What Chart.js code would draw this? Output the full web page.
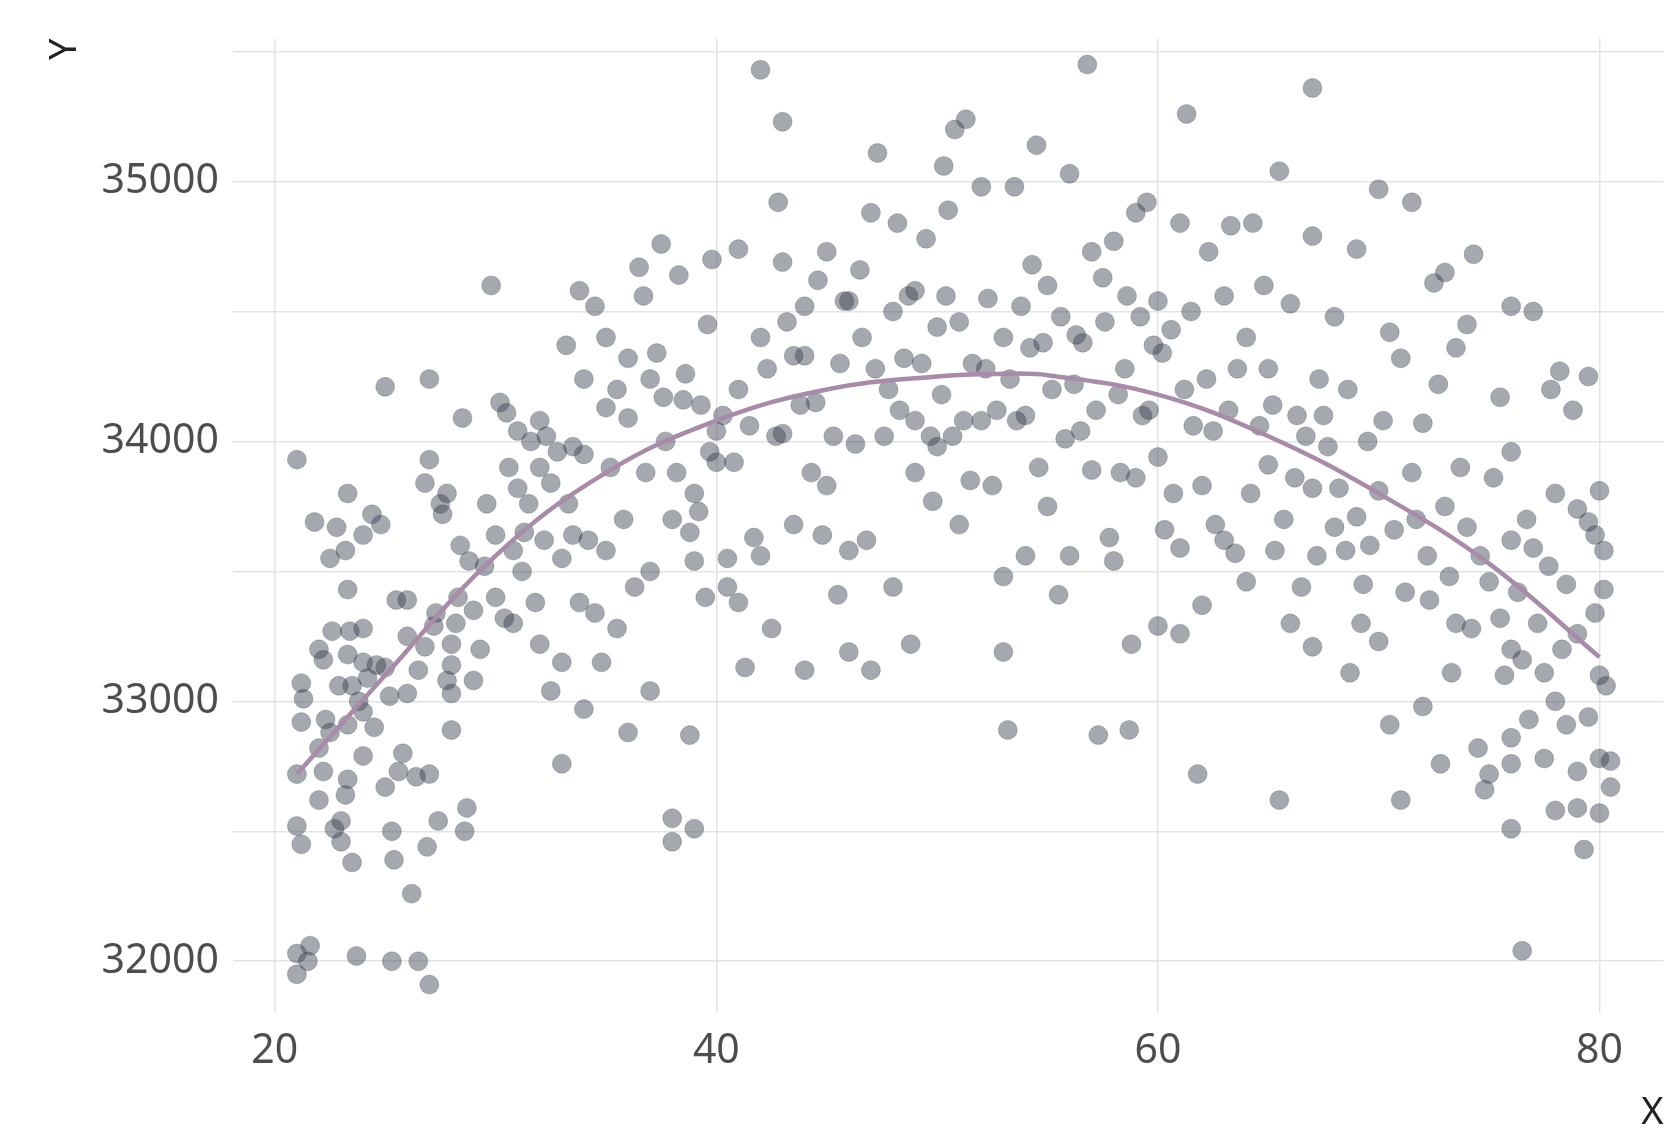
<!DOCTYPE html>
<html>
<head>
<meta charset="utf-8">
<script src="https://cdn.jsdelivr.net/npm/chart.js@4"></script>
<style>
  html, body { margin: 0; background: #fff; }
  #wrap { width: 1674px; height: 1136px; }
</style>
</head>
<body>
<div id="wrap"><canvas id="chart"></canvas></div>
<script>
// scatter points: [x, y]
const points = [
  [21,33930],[21,32720],[21,32520],[21.2,32450],[21,32030],[21,31950],[21.5,32000],[21.6,32060],[21.2,33070],[21.3,33010],
  [21.2,32920],[21.8,33690],[22,33200],[22.2,33160],[22.3,32930],[22,32820],[22.2,32730],[22,32620],[22.5,33550],[22.8,33670],
  [22.6,33270],[22.9,33060],[22.7,32510],[23,32540],[23,32460],[23.3,33800],[23.2,33580],[23.3,33430],[23.4,33270],[23.3,33180],
  [23.5,33060],[23.3,32910],[23.2,32640],[23.3,32700],[23.5,32380],[23.7,32020],[24,33640],[24,33280],[24,33150],[24,32960],
  [24,32790],[24.2,33090],[24.4,33720],[24.6,33140],[24.8,33680],[25,34210],[25,33130],[25,32670],[25.3,32500],[25.3,32000],
  [25.5,33390],[25.4,32390],[25.6,32730],[25.8,32800],[26,33390],[26,33250],[26,33030],[26.2,32260],[26.4,32710],[26.5,32000],
  [26.8,33210],[27,34240],[26.8,33840],[27,33930],[27,32720],[26.9,32440],[27,31910],[27.2,33290],[27.3,33340],[27.5,33760],
  [27.6,33720],[27.4,32540],[27.8,33800],[28,33220],[28,33140],[28,33030],[28,32890],[28.3,33400],[28.4,33600],[28.5,34090],
  [28.7,32590],[28.6,32500],[28.8,33540],[29,33350],[29,33080],[29.5,33520],[29.8,34600],[30,33640],[30,33400],[30.2,34150],
  [30.5,34110],[30.4,33320],[30.8,33580],[31,34040],[31,33820],[31.3,33650],[31.6,34000],[31.8,33380],[32,34080],[32,33900],
  [32,33220],[32.3,34020],[32.5,33840],[32.5,33040],[32.8,33960],[33,33550],[33,33150],[33,32760],[33.2,34370],[33.5,33980],
  [33.5,33640],[33.8,34580],[33.8,33380],[34,34240],[34,33950],[34,32970],[34.5,34520],[34.5,33340],[34.8,33150],[35,34130],
  [35,34400],[35,33580],[35.5,34200],[35.5,33280],[36,34320],[36,34090],[36,32880],[36.5,34670],[36.7,34560],[37,34240],
  [37,33500],[37,33040],[37.3,34340],[37.5,34760],[37.7,34000],[38,33700],[38,32460],[38,32550],[38.3,34640],[38.6,34260],
  [38.8,33650],[38.8,32870],[39,32510],[39,33800],[39,33540],[39.3,34140],[39.6,34450],[39.8,34700],[39.5,33400],[40,33920],
  [40,34040],[40.3,34100],[40.5,33440],[40.5,33550],[41,34740],[41,34200],[41,33380],[41.3,33130],[41.5,34060],[42,35430],
  [42,34400],[42,33560],[42.5,33280],[42.8,34920],[43,35230],[43,34690],[43,34030],[43.5,34330],[43.5,33680],[44,34330],
  [44,34520],[44,33120],[44.5,34150],[44.8,33640],[45,34730],[45,33830],[45.5,33410],[45.8,34540],[46,34540],[46,33580],
  [46,33190],[46.5,34660],[46.8,33620],[47,34880],[47,33120],[47.3,35110],[47.8,34200],[48,34500],[48,33440],[48.2,34840],
  [48.5,34320],[48.8,33220],[49,34580],[49,34080],[49,33880],[49.5,34780],[49.8,33770],[50,34440],[50,33980],[50.3,35060],
  [50.5,34890],[50.7,34020],[50.8,35200],[51,34460],[51,33680],[51.3,35240],[51.5,33850],[52,34080],[52,34980],[52.3,34550],
  [52.5,33830],[53,34400],[53,33480],[53,33190],[53.2,32890],[53.5,34980],[53.8,34520],[54,34100],[54,33560],[54.3,34680],
  [54.5,35140],[54.8,34380],[55,33750],[55,34600],[55.5,33410],[55.8,34010],[56,35030],[56,33560],[56.3,34410],[56.5,34040],
  [56.8,35450],[57,34730],[57,33890],[57.3,32870],[57.5,34630],[57.8,33630],[58,34770],[58,33540],[58.2,34180],[58.5,34280],
  [58.7,32890],[58.8,33220],[59,34880],[59,33860],[59.3,34100],[59.5,34920],[59.8,34370],[60,34540],[60,33290],[60,33940],
  [60.3,33660],[60.6,34430],[61,34840],[61,33590],[61,33260],[61.3,35260],[61.5,34500],[61.8,32720],[62,33830],[62,33370],
  [62.3,34730],[62.5,34040],[63,34560],[63,33620],[63.3,34830],[63.5,33570],[64,34400],[64,33460],[64.3,34840],[64.8,34600],
  [65,33910],[65,34280],[65.3,33580],[65.5,35040],[65.5,32620],[66,34530],[66,33300],[66.3,34100],[66.5,33440],[67,35360],
  [67,34790],[67,33820],[67,33210],[67.3,34240],[67.5,34100],[68,34480],[68,33670],[68.5,33580],[68.7,33110],[69,34740],
  [69,33710],[69.3,33450],[69.5,34000],[70,34970],[70,33810],[70,33230],[70.5,34420],[70.5,32910],[71,34320],[71,32620],
  [71.5,34920],[71.5,33880],[72,34070],[72,32980],[72.3,33390],[72.5,34610],[72.8,32760],[73,34650],[73,33750],[73.3,33110],
  [73.5,33300],[73.5,34360],[74,34450],[74,33670],[74.3,34720],[74.5,32820],[74.8,32660],[75,33460],[75,32720],[75.5,34170],
  [75.5,33320],[76,34520],[76,33960],[76,33620],[76,33200],[76,32860],[76,32760],[76,32510],[76.5,33160],[76.5,32040],
  [76.8,32930],[77,34500],[77,33590],[77.5,33110],[77.5,32780],[77.8,34200],[78,33800],[78,33000],[78,32580],[78.2,34270],
  [78.5,33450],[78.5,32910],[78.8,34120],[79,33740],[79,32730],[79,33260],[79,32590],[79.3,32430],[79.5,34250],[79.5,32940],
  [79.8,33640],[80,33810],[80,33100],[80,32780],[80,32570],[80.2,33580],[80.3,33060],[80.5,32770],[80.5,32670],[80.2,33430],
  [79.8,33340],[79.5,33690],
  // denser middle band
  [29.3,33200],[30.6,33900],[31.2,33500],[32.2,33620],[33.3,33760],[34.2,33620],[35.2,33900],[35.8,33700],[36.3,33440],[36.8,33880],
  [37.6,34170],[38.2,33880],[38.5,34160],[39.2,33730],[39.7,33960],[40.8,33920],[41.7,33630],[42.3,34280],[42.7,34020],[43.2,34460],
  [43.8,34140],[44.3,33880],[44.6,34620],[45.3,34020],[45.6,34300],[46.3,33990],[46.6,34400],[47.2,34280],[47.6,34020],[48.3,34120],
  [48.7,34560],[49.3,34300],[49.7,34020],[50.2,34180],[50.4,34560],[51.2,34080],[51.6,34300],[52.2,34280],[52.7,34120],[53.3,34240],
  [53.6,34080],[54.2,34360],[54.6,33900],[55.2,34200],[55.6,34480],[56.2,34220],[56.6,34380],[57.2,34120],[57.6,34460],[58.3,33880],
  [58.6,34560],[59.2,34480],[59.6,34120],[60.2,34340],[60.7,33800],[61.2,34200],[61.6,34060],[62.2,34240],[62.6,33680],[63.2,34120],
  [63.6,34280],[64.2,33800],[64.6,34060],[65.2,34140],[65.7,33700],[66.2,33860],[66.7,34020],[67.2,33560],[67.7,33980],[68.2,33820],
  [68.6,34200],[69.2,33300],[69.6,33600],[70.2,34080],[70.7,33660],[71.2,33420],[71.7,33700],[72.2,33560],[72.7,34220],[73.2,33480],
  [73.7,33900],[74.2,33280],[74.6,33560],[75.2,33860],[75.7,33100],[76.3,33420],[76.7,33700],[77.2,33300],[77.7,33520],[78.3,33200],
  [28.2,33300],[27.8,33080],[26.5,33120],[25.2,33020],[24.5,32900],[23.8,33000],[22.5,32880],[29.6,33760],[30.8,33300],[31.5,33760]
];

// fitted curve
const curveX = [21, 25, 30, 35, 40, 45, 50, 53, 55, 60, 65, 70, 75, 80];
const curveY = [32720, 33100, 33560, 33880, 34080, 34200, 34250, 34260, 34255, 34180, 34020, 33800, 33530, 33170];

const xTicks = [20, 40, 60, 80];
const yTicks = [32000, 33000, 34000, 35000];

const font = { family: 'Noto Sans', size: 41 };
const ctx = document.getElementById('chart').getContext('2d');
new Chart(ctx, {
  type: 'scatter',
  data: {
    datasets: [{
      data: points.map(p => ({ x: p[0], y: p[1] })),
      backgroundColor: 'rgba(55, 62, 78, 0.45)',
      borderColor: 'rgba(55, 62, 78, 0.25)',
      borderWidth: 1,
      pointRadius: 9.5,
      order: 2
    }, {
      type: 'line',
      data: curveX.map((x, i) => ({ x: x, y: curveY[i] })),
      borderColor: '#a88aa9',
      borderWidth: 4.5,
      pointRadius: 0,
      tension: 0.4,
      fill: false,
      order: 1
    }]
  },
  options: {
    responsive: true,
    maintainAspectRatio: false,
    animation: false,
    layout: { padding: { left: 42, right: 10, top: 10, bottom: 0 } },
    plugins: { legend: { display: false }, tooltip: { enabled: false } },
    scales: {
      x: {
        min: 18.1, max: 82.9,
        afterBuildTicks: axis => { axis.ticks = xTicks.map(v => ({ value: v })); },
        ticks: { color: '#4d4d4d', font: font, maxRotation: 0, autoSkip: false, padding: 14 },
        grid: { color: '#e3e3e3', lineWidth: 1.5, drawTicks: false },
        border: { display: false },
        title: { display: true, text: 'X', align: 'end', color: '#222', font: { family: 'Noto Sans', size: 38 }, padding: 0 }
      },
      y: {
        min: 31800, max: 35550,
        afterBuildTicks: axis => {
          const t = [];
          for (let v = 32000; v <= 35500; v += 500) t.push({ value: v });
          axis.ticks = t;
        },
        ticks: { color: '#4d4d4d', font: font, callback: v => yTicks.includes(v) ? String(v) : '', autoSkip: false, padding: 14 },
        grid: { color: '#e3e3e3', lineWidth: 1.5, drawTicks: false },
        border: { display: false },
        title: { display: true, text: 'Y', align: 'end', color: '#222', font: { family: 'Noto Sans', size: 38 }, padding: 0 }
      }
    }
  }
});
</script>
</body>
</html>
